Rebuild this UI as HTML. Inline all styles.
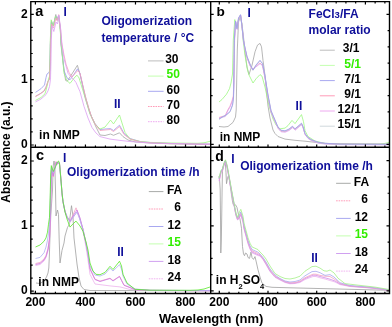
<!DOCTYPE html>
<html><head><meta charset="utf-8"><style>
html,body{margin:0;padding:0;background:#fff;width:392px;height:327px;overflow:hidden}
svg{display:block;will-change:transform}
text{font-family:"Liberation Sans",sans-serif;font-weight:bold}
</style></head><body>
<svg width="392" height="327" viewBox="0 0 392 327">
<rect width="392" height="327" fill="#fff"/>
<path d="M35.5,96.3 40.0,93.8 44.0,91.0 46.0,87.5 48.0,81.3 49.5,79.0 50.2,60.0 50.5,40.0 51.4,22.0 53.3,26.0 55.8,14.5 57.0,20.0 58.7,16.0 60.4,30.0 61.0,45.0 63.9,68.6 65.6,80.4 67.3,81.2 73.2,72.0 77.4,65.3 79.9,73.7 85.0,95.0 88.6,108.0 92.0,118.0 96.0,127.0 100.0,135.0 105.0,135.5 110.5,134.0 113.5,135.3 119.5,132.8 123.0,136.6 128.0,140.0 135.0,141.9 150.0,143.0 170.0,143.8 210.0,144.3" stroke="#a4a4a4" stroke-width="0.8" fill="none"/>
<path d="M35.5,92.4 41.0,88.7 44.5,85.0 46.0,77.6 47.0,74.0 49.0,72.5 49.8,70.3 50.3,45.0 51.4,21.0 53.3,26.0 55.8,16.0 57.0,19.5 58.7,15.0 60.4,30.0 61.0,42.0 64.0,70.6 67.0,77.9 70.0,79.8 74.0,74.3 77.5,68.8 80.0,73.3 85.0,97.2 90.0,113.7 95.0,123.5 100.0,129.6 105.0,129.0 110.5,128.6 113.5,130.5 119.5,125.2 124.0,133.4 130.0,138.5 140.0,141.5 150.0,142.5 170.0,143.5 210.0,144.2" stroke="#9c9cec" stroke-width="0.8" fill="none"/>
<path d="M35.5,100.4 41.0,97.5 45.0,93.8 47.0,86.5 48.5,79.1 49.5,76.2 50.1,55.0 50.3,40.0 51.2,19.8 53.3,26.0 55.5,16.0 57.0,20.0 58.7,16.0 60.2,30.0 61.0,42.0 64.0,73.3 67.0,80.7 70.0,83.4 75.0,77.0 77.0,75.2 79.0,77.9 85.0,97.2 90.0,114.0 95.0,124.0 100.0,129.0 105.0,127.1 110.5,120.1 113.5,123.9 119.5,115.0 122.0,123.0 125.0,132.4 130.0,139.0 140.0,141.5 150.0,142.4 170.0,143.0 198.0,143.3 204.0,142.8 210.0,141.3" stroke="#9cf880" stroke-width="0.8" fill="none"/>
<path d="M35.5,96.6 40.0,94.0 44.0,91.2 46.0,86.8 48.0,81.5 49.5,79.2 50.4,60.0 50.8,40.0 51.6,24.0 53.5,28.0 56.0,18.0 57.2,21.0 58.7,14.6 60.6,30.0 61.5,42.0 64.0,55.0 66.0,64.2 69.0,72.4 72.0,77.0 75.0,73.3 78.0,70.6 80.0,73.3 86.0,99.0 91.0,115.5 95.0,124.0 100.0,130.5 105.0,130.0 110.5,129.5 113.5,131.5 119.5,126.5 124.0,134.5 130.0,139.0 140.0,141.8 150.0,142.8 170.0,143.6 210.0,144.3" stroke="#f49ebe" stroke-width="0.8" fill="none"/>
<path d="M35.5,101.9 41.0,99.0 46.0,94.6 48.0,90.9 49.5,86.5 50.5,79.1 51.0,60.0 51.3,40.0 52.0,26.0 53.8,31.5 56.0,22.0 57.5,24.0 58.8,15.0 60.8,30.0 62.0,45.0 64.0,58.7 68.0,73.3 71.0,77.0 74.0,79.8 76.0,82.5 80.0,91.7 84.0,106.4 88.0,118.0 92.0,127.5 96.0,133.0 100.0,136.6 110.0,139.1 120.0,140.4 130.0,141.5 150.0,143.0 210.0,144.3" stroke="#dc9ef2" stroke-width="0.8" fill="none"/>
<path d="M219.0,126.5 224.0,127.0 228.0,126.5 233.0,122.4 235.5,117.0 236.2,110.0 236.5,90.0 237.3,50.0 238.5,22.0 240.5,16.0 242.0,24.3 243.5,37.0 245.0,52.0 247.0,67.0 249.0,74.5 252.0,65.3 255.0,51.8 257.5,45.1 260.0,43.4 261.5,46.8 263.0,60.3 265.0,75.4 266.5,92.0 268.0,106.0 270.0,118.0 273.0,130.0 275.0,133.5 278.0,136.5 285.0,139.1 295.0,140.3 305.0,141.2 315.0,142.3 325.0,143.3 340.0,144.0 389.0,144.3" stroke="#a4a4a4" stroke-width="0.8" fill="none"/>
<path d="M219.0,102.0 222.0,99.5 226.5,94.2 228.0,91.4 229.5,88.7 231.0,83.0 232.5,74.0 233.3,40.0 234.8,19.6 236.5,26.4 238.5,20.0 240.5,15.7 242.0,25.3 243.0,39.3 245.0,55.3 247.5,70.0 249.0,75.0 253.0,83.0 256.0,78.8 260.0,74.6 262.0,76.2 265.0,87.0 269.0,106.0 273.0,119.0 276.0,125.0 280.0,128.8 285.0,128.1 288.0,125.6 292.0,120.4 295.0,123.6 301.5,114.6 303.5,121.7 305.0,130.7 308.0,136.5 315.0,141.0 325.0,143.5 340.0,144.0 378.0,144.1 384.0,143.6 389.0,142.4" stroke="#9cf880" stroke-width="0.8" fill="none"/>
<path d="M219.0,117.5 222.0,116.5 225.0,116.0 228.0,109.5 230.0,106.2 232.0,100.9 233.3,96.0 233.9,80.0 234.4,40.0 235.6,21.5 237.0,29.0 238.6,18.5 240.6,15.0 242.0,27.0 243.5,41.0 245.0,49.0 247.0,57.5 250.0,65.5 252.5,69.2 255.0,67.0 258.0,64.5 260.0,63.0 262.5,65.5 265.0,78.0 268.0,97.0 271.0,112.0 275.0,121.0 278.0,128.0 281.0,131.2 285.0,131.6 289.0,129.8 292.5,127.0 295.0,129.6 301.5,124.0 303.0,127.3 305.0,134.2 308.0,138.0 312.0,140.5 318.0,142.5 325.0,143.5 340.0,144.1 389.0,144.3" stroke="#f49ebe" stroke-width="0.8" fill="none"/>
<path d="M219.2,118.1 222.2,117.1 225.2,116.6 228.2,110.1 230.2,106.8 232.2,101.5 233.5,96.6 234.1,80.6 234.6,40.6 235.8,22.1 237.2,29.6 238.8,19.1 240.8,15.6 242.2,27.6 243.7,41.6 245.2,49.6 247.2,58.1 250.2,66.1 252.7,69.8 255.2,67.6 258.2,65.1 260.2,63.6 262.7,66.1 265.2,78.6 268.2,97.6 271.2,112.6 275.2,121.6 278.2,128.6 281.2,131.8 285.2,132.2 289.2,130.4 292.7,127.6 295.2,130.2 301.7,124.6 303.2,127.9 305.2,134.8 308.2,138.6 312.2,141.1 318.2,143.1 325.2,144.1 340.2,144.7 389.2,144.9" stroke="#dc9ef2" stroke-width="0.8" fill="none"/>
<path d="M219.0,119.4 223.0,116.9 226.0,115.4 230.0,112.0 232.5,105.4 233.5,98.4 233.8,80.4 234.3,40.4 235.5,21.4 237.0,29.0 238.5,18.4 240.5,15.0 242.0,26.8 243.5,40.7 245.0,48.2 247.0,56.8 250.0,64.4 253.0,70.4 256.0,65.4 260.0,60.7 262.5,63.9 265.0,76.4 268.0,95.4 271.0,110.9 275.0,120.4 278.0,127.4 281.0,130.6 285.0,131.2 289.0,129.4 292.5,126.6 295.0,129.2 301.5,123.6 303.0,126.9 305.0,133.9 308.0,137.9 312.0,140.4 318.0,142.6 325.0,143.7 340.0,144.4 389.0,144.6" stroke="#c4ccd4" stroke-width="0.8" fill="none"/>
<path d="M219.0,119.0 223.0,116.5 226.0,115.0 230.0,111.6 232.5,105.0 233.5,98.0 233.8,80.0 234.3,40.0 235.5,21.0 237.0,28.6 238.5,18.0 240.5,14.6 242.0,26.4 243.5,40.3 245.0,47.8 247.0,56.4 250.0,64.0 253.0,70.0 256.0,65.0 260.0,60.3 262.5,63.5 265.0,76.0 268.0,95.0 271.0,110.5 275.0,120.0 278.0,127.0 281.0,130.2 285.0,130.8 289.0,129.0 292.5,126.2 295.0,128.8 301.5,123.2 303.0,126.5 305.0,133.5 308.0,137.5 312.0,140.0 318.0,142.2 325.0,143.3 340.0,144.0 389.0,144.2" stroke="#9c9cec" stroke-width="0.8" fill="none"/>
<path d="M36.0,283.0 40.0,283.5 44.0,281.0 46.5,277.0 48.0,273.0 48.8,268.0 49.4,255.0 50.0,235.0 50.8,215.0 52.5,190.0 53.2,166.0 54.0,161.0 54.8,166.0 55.5,190.0 56.0,216.0 57.5,210.0 58.5,214.3 59.2,240.0 60.0,263.0 62.0,250.4 64.0,243.0 65.0,236.0 67.5,227.4 69.0,225.0 71.5,205.7 73.0,216.4 74.0,238.0 75.5,251.0 77.0,264.0 79.0,277.5 81.0,286.0 84.0,289.5 90.0,290.5 210.0,290.8" stroke="#a0a0a0" stroke-width="0.8" fill="none"/>
<path d="M35.5,265.5 40.0,264.5 44.0,261.0 46.0,257.5 48.0,251.0 49.5,241.0 50.6,215.0 51.1,190.0 51.7,170.0 53.3,177.0 55.3,167.0 56.3,162.5 57.3,164.5 58.8,163.2 59.7,165.0 60.2,170.0 60.8,177.0 61.3,182.5 62.0,194.0 63.0,202.5 65.0,212.0 67.0,217.5 70.0,222.5 73.0,217.5 77.0,212.0 80.0,219.5 83.0,231.0 86.0,247.0 88.0,260.0 90.0,274.3 95.0,284.0 110.0,285.9 120.0,286.9 130.0,289.5 150.0,290.5 210.0,290.8" stroke="#ecb2ec" stroke-width="0.8" fill="none"/>
<path d="M35.5,263.5 40.0,262.5 44.0,259.0 46.0,255.5 48.0,248.5 49.5,237.9 50.4,215.0 50.9,190.0 51.5,168.0 53.0,177.0 55.0,166.0 56.0,161.4 57.0,163.3 58.5,162.3 59.5,164.0 60.0,169.0 60.6,176.0 61.1,181.5 62.0,193.0 63.0,201.5 65.0,211.0 67.0,216.4 70.0,221.0 73.0,215.0 76.0,207.8 79.0,215.5 83.0,229.0 86.0,243.0 88.0,254.0 90.0,268.6 95.0,279.2 100.0,281.1 110.0,278.2 113.0,280.5 119.5,276.3 121.5,280.0 124.0,285.0 135.0,289.5 150.0,290.3 210.0,290.7" stroke="#f2a2c2" stroke-width="0.8" fill="none"/>
<path d="M35.5,264.5 40.0,263.5 44.0,260.0 46.0,256.5 48.0,249.5 49.5,239.0 50.5,215.0 51.0,190.0 51.6,169.0 53.2,176.0 55.2,166.5 56.2,162.0 57.2,164.0 58.7,162.8 59.6,164.5 60.1,169.5 60.7,176.5 61.2,182.0 62.0,193.5 63.0,202.0 65.0,211.5 67.0,217.0 70.0,221.5 73.0,216.0 77.0,210.0 80.0,218.0 83.0,229.5 86.0,244.0 88.0,255.0 90.0,269.0 95.0,279.5 100.0,281.5 110.0,278.5 113.0,281.0 119.5,276.5 121.5,280.5 124.0,285.3 135.0,289.6 150.0,290.4 210.0,290.7" stroke="#cc78e4" stroke-width="0.8" fill="none"/>
<path d="M35.5,258.5 40.0,257.4 44.0,252.8 46.0,247.0 47.5,240.2 48.5,233.3 49.5,224.2 50.3,200.0 50.9,178.0 51.5,167.0 53.3,173.0 55.5,166.0 57.5,162.3 58.5,161.6 59.5,163.5 59.9,168.5 60.5,175.5 61.0,181.5 62.0,193.0 63.0,201.6 65.0,211.2 67.0,216.6 70.0,221.5 73.0,217.5 77.0,212.0 79.0,217.0 83.0,229.5 86.0,243.0 88.0,254.0 90.0,266.0 95.0,275.0 100.0,276.0 105.0,274.0 110.0,268.2 113.0,271.0 119.5,264.7 121.5,269.0 123.0,276.0 127.0,284.0 135.0,289.0 150.0,290.2 210.0,290.6" stroke="#b0b0f2" stroke-width="0.8" fill="none"/>
<path d="M35.5,247.0 40.0,245.0 44.0,241.3 46.0,237.9 47.5,232.2 48.5,224.2 49.5,217.3 50.2,195.0 50.7,175.0 51.3,165.6 53.3,171.5 55.5,166.9 57.5,161.9 58.5,161.0 59.5,163.0 59.9,168.0 60.5,175.0 61.0,181.0 62.0,192.8 63.0,201.4 65.0,212.0 67.0,219.0 70.0,227.1 73.0,223.9 76.0,221.1 80.0,226.0 83.0,231.4 86.0,242.0 88.0,250.0 90.0,263.0 93.0,271.0 96.0,274.3 100.0,274.7 105.0,272.4 110.0,266.3 113.0,269.5 119.5,261.2 121.5,266.0 123.0,274.3 127.0,283.0 135.0,289.3 150.0,290.2 190.0,290.3 198.0,290.0 204.0,289.0 210.0,287.0" stroke="#58e828" stroke-width="0.8" fill="none"/>
<path d="M219.0,176.0 219.6,180.0 220.2,190.0 220.5,218.0 220.8,253.0 221.3,240.0 221.7,218.0 222.1,190.0 222.5,169.0 224.0,163.5 225.2,160.8 226.0,172.7 226.5,183.7 227.5,178.2 228.5,175.4 229.5,180.0 230.5,187.4 232.0,198.4 233.0,203.9 234.0,205.7 235.5,204.8 237.0,207.5 238.5,214.8 240.0,219.0 241.5,228.3 242.5,246.6 243.5,253.9 244.5,255.7 245.5,253.0 247.0,254.0 248.0,257.5 249.5,258.4 251.0,252.0 252.0,257.5 253.5,259.4 255.0,256.6 256.5,263.0 258.0,269.8 260.0,277.0 262.0,283.0 266.0,286.4 272.0,287.3 290.0,287.8 330.0,288.8 389.0,290.3" stroke="#a0a0a0" stroke-width="0.8" fill="none"/>
<path d="M219.2,181.5 219.9,178.3 221.0,172.7 222.5,171.0 224.0,165.5 225.5,162.1 227.0,167.3 228.5,175.3 230.0,183.8 232.0,194.8 234.0,205.3 235.0,210.8 236.0,215.8 237.5,220.0 239.0,219.0 240.8,215.3 243.0,222.2 244.0,229.1 246.0,236.4 248.0,243.8 250.0,249.2 252.0,252.9 254.0,253.8 256.0,254.7 258.0,255.6 260.0,256.0 263.0,259.5 266.0,264.5 270.0,271.5 275.0,277.3 280.0,280.0 285.0,282.5 290.0,283.8 295.0,283.5 300.0,282.5 305.0,279.5 313.0,276.5 316.0,276.5 320.0,277.8 325.0,279.0 330.0,280.5 335.0,282.0 340.0,284.6 350.0,286.5 370.0,288.0 389.0,290.3" stroke="#ecb2ec" stroke-width="0.8" fill="none"/>
<path d="M219.2,181.0 219.8,177.8 221.0,172.2 222.5,170.4 224.0,165.0 225.5,161.7 227.0,166.8 228.5,174.8 230.0,183.3 232.0,194.3 234.0,204.8 235.0,210.3 236.0,215.3 237.5,219.5 239.0,218.1 240.8,214.4 243.0,221.3 244.0,228.2 246.0,235.5 248.0,242.9 250.0,248.3 252.0,252.0 254.0,252.9 256.0,253.8 258.0,254.7 260.0,255.5 263.0,259.0 266.0,264.0 270.0,271.0 275.0,276.8 280.0,279.5 285.0,282.0 290.0,283.3 295.0,283.0 300.0,281.8 305.0,278.6 313.0,275.2 316.0,275.3 320.0,276.5 325.0,277.8 330.0,279.2 335.0,281.0 340.0,284.0 350.0,286.2 370.0,287.8 389.0,290.2" stroke="#d08ce8" stroke-width="0.8" fill="none"/>
<path d="M219.2,180.0 219.7,177.2 221.0,171.6 222.5,169.8 224.0,164.4 225.5,161.2 227.0,166.2 228.5,174.2 230.0,182.7 232.0,193.7 234.0,204.2 235.0,209.7 236.0,214.7 237.5,218.9 239.0,216.9 240.8,213.2 243.0,220.1 244.0,227.0 246.0,234.3 248.0,241.7 250.0,247.1 252.0,250.8 254.0,251.7 256.0,252.6 258.0,253.5 260.0,254.8 263.0,258.3 266.0,263.0 270.0,270.0 275.0,276.0 280.0,279.0 285.0,281.5 290.0,282.8 295.0,282.6 300.0,281.1 305.0,277.7 313.0,274.2 316.0,274.2 320.0,275.4 325.0,276.2 330.0,276.5 335.0,279.5 340.0,283.4 350.0,286.0 370.0,287.5 389.0,290.0" stroke="#f2a2c2" stroke-width="0.8" fill="none"/>
<path d="M219.0,179.0 219.5,176.6 221.0,171.0 222.5,169.2 224.0,163.8 225.5,160.6 227.0,165.5 228.5,173.5 230.0,182.0 232.0,193.0 234.0,203.5 235.0,209.0 236.0,214.0 237.5,218.2 239.0,215.6 240.8,211.9 243.0,218.8 244.0,225.7 246.0,233.0 248.0,240.4 250.0,245.8 252.0,249.5 254.0,250.4 256.0,251.3 258.0,252.2 260.0,254.0 263.0,257.5 266.0,262.0 270.0,269.0 275.0,275.0 280.0,278.5 285.0,281.0 290.0,282.0 295.0,281.5 300.0,280.0 305.0,275.8 312.0,271.6 316.0,271.3 320.0,272.7 325.0,275.4 330.0,274.6 334.0,277.0 340.0,282.7 350.0,285.5 370.0,287.1 389.0,289.8" stroke="#a8a8f0" stroke-width="0.8" fill="none"/>
<path d="M219.0,178.0 219.5,175.8 221.0,170.3 222.5,168.5 224.0,163.0 225.5,159.8 227.0,164.7 228.5,172.7 230.0,181.2 232.0,192.2 234.0,202.7 235.0,208.2 236.0,213.2 237.5,217.4 239.0,213.0 240.8,209.3 243.0,216.2 244.0,223.1 246.0,230.4 248.0,237.8 250.0,243.2 252.0,246.9 254.0,247.8 256.0,248.7 258.0,249.6 260.0,252.0 263.0,255.0 266.0,259.0 270.0,266.0 275.0,273.5 280.0,276.5 285.0,278.5 290.0,279.0 295.0,278.0 300.0,276.2 305.0,271.2 312.0,266.6 316.0,266.2 320.0,268.1 324.0,270.8 327.0,271.2 330.0,270.0 334.0,272.9 338.0,278.2 345.0,283.6 360.0,285.4 375.0,287.1 389.0,289.5" stroke="#a4f088" stroke-width="0.8" fill="none"/>
<path d="M148 60.9H163.6" stroke="#bdbdbd" stroke-width="1.0"/>
<path d="M148 76.1H163.6" stroke="#c4ffb0" stroke-width="1.0"/>
<path d="M148 91.3H163.6" stroke="#a8a8f0" stroke-width="1.0"/>
<path d="M148 106.5H163.6" stroke="#ff9cb8" stroke-width="1.0" stroke-dasharray="1.6,0.9"/>
<path d="M148 121.7H163.6" stroke="#eeaaf0" stroke-width="1.0" stroke-dasharray="1.6,0.9"/>
<path d="M319.8 50.2H334.8" stroke="#bdbdbd" stroke-width="1.0"/>
<path d="M319.8 65.4H334.8" stroke="#c4ffb0" stroke-width="1.0"/>
<path d="M319.8 80.6H334.8" stroke="#a8a8f0" stroke-width="1.0"/>
<path d="M319.8 95.8H334.8" stroke="#ff9cb8" stroke-width="1.0"/>
<path d="M319.8 111.0H334.8" stroke="#eeaaf0" stroke-width="1.0"/>
<path d="M319.8 126.2H334.8" stroke="#d0d8dc" stroke-width="1.0"/>
<path d="M148.8 191.6H163.4" stroke="#a8aaa8" stroke-width="1.0"/>
<path d="M148.8 209.0H163.4" stroke="#ff9cb8" stroke-width="1.0" stroke-dasharray="1.6,0.9"/>
<path d="M148.8 226.5H163.4" stroke="#a8a8f0" stroke-width="1.0"/>
<path d="M148.8 243.9H163.4" stroke="#c4ffb0" stroke-width="1.0"/>
<path d="M148.8 261.4H163.4" stroke="#d0a0f0" stroke-width="1.0"/>
<path d="M148.8 278.8H163.4" stroke="#f0b4f0" stroke-width="1.0" stroke-dasharray="1.6,0.9"/>
<path d="M336.1 183.3H350.7" stroke="#a8aaa8" stroke-width="1.0"/>
<path d="M336.1 200.8H350.7" stroke="#ff9cb8" stroke-width="1.0" stroke-dasharray="1.6,0.9"/>
<path d="M336.1 218.4H350.7" stroke="#a8a8f0" stroke-width="1.0"/>
<path d="M336.1 235.9H350.7" stroke="#c4ffb0" stroke-width="1.0"/>
<path d="M336.1 253.5H350.7" stroke="#d0a0f0" stroke-width="1.0"/>
<path d="M336.1 271.1H350.7" stroke="#f0b4f0" stroke-width="1.0" stroke-dasharray="1.6,0.9"/>
<path d="M35.40 147.20v-2.7M35.40 1.60v3.0M45.41 147.20v-1.8M45.41 1.60v2.0M55.42 147.20v-1.8M55.42 1.60v2.0M65.42 147.20v-1.8M65.42 1.60v2.0M75.43 147.20v-1.8M75.43 1.60v2.0M85.44 147.20v-2.7M85.44 1.60v3.0M95.45 147.20v-1.8M95.45 1.60v2.0M105.46 147.20v-1.8M105.46 1.60v2.0M115.46 147.20v-1.8M115.46 1.60v2.0M125.47 147.20v-1.8M125.47 1.60v2.0M135.48 147.20v-2.7M135.48 1.60v3.0M145.49 147.20v-1.8M145.49 1.60v2.0M155.50 147.20v-1.8M155.50 1.60v2.0M165.50 147.20v-1.8M165.50 1.60v2.0M175.51 147.20v-1.8M175.51 1.60v2.0M185.52 147.20v-2.7M185.52 1.60v3.0M195.53 147.20v-1.8M195.53 1.60v2.0M205.54 147.20v-1.8M205.54 1.60v2.0M30.80 145.00h3.0M30.80 131.93h1.9M30.80 118.86h1.9M30.80 105.79h1.9M30.80 92.72h1.9M30.80 79.65h3.0M30.80 66.58h1.9M30.80 53.51h1.9M30.80 40.44h1.9M30.80 27.37h1.9M30.80 14.30h3.0M219.30 147.20v-2.7M219.30 1.60v3.0M229.04 147.20v-1.8M229.04 1.60v2.0M238.78 147.20v-1.8M238.78 1.60v2.0M248.52 147.20v-1.8M248.52 1.60v2.0M258.26 147.20v-1.8M258.26 1.60v2.0M268.00 147.20v-2.7M268.00 1.60v3.0M277.74 147.20v-1.8M277.74 1.60v2.0M287.48 147.20v-1.8M287.48 1.60v2.0M297.22 147.20v-1.8M297.22 1.60v2.0M306.96 147.20v-1.8M306.96 1.60v2.0M316.70 147.20v-2.7M316.70 1.60v3.0M326.44 147.20v-1.8M326.44 1.60v2.0M336.18 147.20v-1.8M336.18 1.60v2.0M345.92 147.20v-1.8M345.92 1.60v2.0M355.66 147.20v-1.8M355.66 1.60v2.0M365.40 147.20v-2.7M365.40 1.60v3.0M375.14 147.20v-1.8M375.14 1.60v2.0M384.88 147.20v-1.8M384.88 1.60v2.0M210.70 144.30h3.0M389.50 144.30h-3.0M210.70 128.06h1.9M389.50 128.06h-1.9M210.70 111.83h1.9M389.50 111.83h-1.9M210.70 95.59h1.9M389.50 95.59h-1.9M210.70 79.35h3.0M389.50 79.35h-3.0M210.70 63.11h1.9M389.50 63.11h-1.9M210.70 46.88h1.9M389.50 46.88h-1.9M210.70 30.64h1.9M389.50 30.64h-1.9M210.70 14.40h3.0M389.50 14.40h-3.0M35.40 293.50v-2.7M45.41 293.50v-1.8M55.42 293.50v-1.8M65.42 293.50v-1.8M75.43 293.50v-1.8M85.44 293.50v-2.7M95.45 293.50v-1.8M105.46 293.50v-1.8M115.46 293.50v-1.8M125.47 293.50v-1.8M135.48 293.50v-2.7M145.49 293.50v-1.8M155.50 293.50v-1.8M165.50 293.50v-1.8M175.51 293.50v-1.8M185.52 293.50v-2.7M195.53 293.50v-1.8M205.54 293.50v-1.8M30.80 291.20h3.0M30.80 278.18h1.9M30.80 265.16h1.9M30.80 252.14h1.9M30.80 239.12h1.9M30.80 226.10h3.0M30.80 213.08h1.9M30.80 200.06h1.9M30.80 187.04h1.9M30.80 174.02h1.9M30.80 161.00h3.0M219.30 293.50v-2.7M229.04 293.50v-1.8M238.78 293.50v-1.8M248.52 293.50v-1.8M258.26 293.50v-1.8M268.00 293.50v-2.7M277.74 293.50v-1.8M287.48 293.50v-1.8M297.22 293.50v-1.8M306.96 293.50v-1.8M316.70 293.50v-2.7M326.44 293.50v-1.8M336.18 293.50v-1.8M345.92 293.50v-1.8M355.66 293.50v-1.8M365.40 293.50v-2.7M375.14 293.50v-1.8M384.88 293.50v-1.8M210.70 290.90h3.0M389.50 290.90h-3.0M210.70 274.62h1.9M389.50 274.62h-1.9M210.70 258.35h1.9M389.50 258.35h-1.9M210.70 242.07h1.9M389.50 242.07h-1.9M210.70 225.80h3.0M389.50 225.80h-3.0M210.70 209.52h1.9M389.50 209.52h-1.9M210.70 193.25h1.9M389.50 193.25h-1.9M210.70 176.97h1.9M389.50 176.97h-1.9M210.70 160.70h3.0M389.50 160.70h-3.0" stroke="#000" stroke-width="1.2" fill="none"/>
<path d="M30.8 1.6H389.5V293.5H30.8Z M210.7 1.6V293.5 M30.8 147.2H389.5" stroke="#000" stroke-width="1.4" fill="none"/>
<text x="27.6" y="17.5" font-size="12" text-anchor="end" fill="#000" >2</text>
<text x="27.6" y="82.7" font-size="12" text-anchor="end" fill="#000" >1</text>
<text x="27.6" y="147.9" font-size="12" text-anchor="end" fill="#000" >0</text>
<text x="27.6" y="163.7" font-size="12" text-anchor="end" fill="#000" >2</text>
<text x="27.6" y="228.8" font-size="12" text-anchor="end" fill="#000" >1</text>
<text x="27.6" y="293.9" font-size="12" text-anchor="end" fill="#000" >0</text>
<text x="35.4" y="305.6" font-size="12" text-anchor="middle" fill="#000" >200</text>
<text x="85.4" y="305.6" font-size="12" text-anchor="middle" fill="#000" >400</text>
<text x="135.5" y="305.6" font-size="12" text-anchor="middle" fill="#000" >600</text>
<text x="185.5" y="305.6" font-size="12" text-anchor="middle" fill="#000" >800</text>
<text x="219.3" y="305.6" font-size="12" text-anchor="middle" fill="#000" >200</text>
<text x="268.0" y="305.6" font-size="12" text-anchor="middle" fill="#000" >400</text>
<text x="316.7" y="305.6" font-size="12" text-anchor="middle" fill="#000" >600</text>
<text x="365.4" y="305.6" font-size="12" text-anchor="middle" fill="#000" >800</text>
<text x="211.2" y="322.6" font-size="13" text-anchor="middle" fill="#000" >Wavelength (nm)</text>
<text x="0" y="0" font-size="12" text-anchor="middle" transform="translate(9.8,152.1) rotate(-90)">Absorbance (a.u.)</text>
<text x="35.2" y="15.6" font-size="14.5" text-anchor="start" fill="#000" >a</text>
<text x="216.4" y="16.1" font-size="13.6" text-anchor="start" fill="#000" >b</text>
<text x="36.0" y="160.4" font-size="14.5" text-anchor="start" fill="#000" >c</text>
<text x="215.2" y="160.7" font-size="14" text-anchor="start" fill="#000" >d</text>
<text x="63.6" y="15.8" font-size="12" text-anchor="start" fill="#0f0f9a" >I</text>
<text x="114" y="107.7" font-size="12" text-anchor="start" fill="#0f0f9a" >II</text>
<text x="247.4" y="16.8" font-size="12" text-anchor="start" fill="#0f0f9a" >I</text>
<text x="295.6" y="109.9" font-size="12" text-anchor="start" fill="#0f0f9a" >II</text>
<text x="62.9" y="162.2" font-size="12" text-anchor="start" fill="#0f0f9a" >I</text>
<text x="117.2" y="256.3" font-size="12" text-anchor="start" fill="#0f0f9a" >II</text>
<text x="231.2" y="162.8" font-size="12" text-anchor="start" fill="#0f0f9a" >I</text>
<text x="311.2" y="262" font-size="12" text-anchor="start" fill="#0f0f9a" >II</text>
<text x="39.1" y="139.0" font-size="12" text-anchor="start" fill="#000" >in NMP</text>
<text x="219.7" y="140.6" font-size="12" text-anchor="start" fill="#000" >in NMP</text>
<text x="38.3" y="286.2" font-size="12" text-anchor="start" fill="#000" >in NMP</text>
<text x="215.8" y="284.1" font-size="12">in H<tspan font-size="7.5" dy="4.8">2</tspan><tspan dy="-4.8">SO</tspan><tspan font-size="7.5" dy="4.8">4</tspan></text>
<text x="101.4" y="24.5" font-size="12" text-anchor="start" fill="#0f0f9a" >Oligomerization</text>
<text x="101.4" y="42" font-size="12" text-anchor="start" fill="#0f0f9a" >temperature / °C</text>
<text x="165.2" y="63.2" font-size="12" text-anchor="start" fill="#000" >30</text>
<text x="166.6" y="78.4" font-size="12" text-anchor="start" fill="#33ee00" >50</text>
<text x="166.6" y="93.6" font-size="12" text-anchor="start" fill="#000" >60</text>
<text x="166.6" y="108.8" font-size="12" text-anchor="start" fill="#000" >70</text>
<text x="166.6" y="124.0" font-size="12" text-anchor="start" fill="#000" >80</text>
<text x="308.6" y="18.2" font-size="12" fill="#0f0f9a">FeCl<tspan font-size="9.5">3</tspan>/FA</text>
<text x="308.6" y="33.6" font-size="12" text-anchor="start" fill="#0f0f9a" >molar ratio</text>
<text x="359.4" y="52.3" font-size="12" text-anchor="end" fill="#000" >3/1</text>
<text x="360.9" y="67.5" font-size="12" text-anchor="end" fill="#33ee00" >5/1</text>
<text x="360.9" y="82.7" font-size="12" text-anchor="end" fill="#000" >7/1</text>
<text x="360.9" y="97.9" font-size="12" text-anchor="end" fill="#000" >9/1</text>
<text x="360.9" y="113.1" font-size="12" text-anchor="end" fill="#000" >12/1</text>
<text x="360.9" y="128.3" font-size="12" text-anchor="end" fill="#000" >15/1</text>
<text x="67" y="175.8" font-size="12" text-anchor="start" fill="#0f0f9a" >Oligomerization time /h</text>
<text x="182.3" y="194.0" font-size="12" text-anchor="end" fill="#000" >FA</text>
<text x="180.9" y="211.4" font-size="12" text-anchor="end" fill="#000" >6</text>
<text x="180.9" y="228.9" font-size="12" text-anchor="end" fill="#000" >12</text>
<text x="180.9" y="246.3" font-size="12" text-anchor="end" fill="#33ee00" >15</text>
<text x="180.9" y="263.8" font-size="12" text-anchor="end" fill="#000" >18</text>
<text x="180.9" y="281.2" font-size="12" text-anchor="end" fill="#000" >24</text>
<text x="240.2" y="169.8" font-size="12" text-anchor="start" fill="#0f0f9a" >Oligomerization time /h</text>
<text x="369.2" y="185.7" font-size="12" text-anchor="end" fill="#000" >FA</text>
<text x="368.0" y="203.2" font-size="12" text-anchor="end" fill="#000" >6</text>
<text x="368.0" y="220.8" font-size="12" text-anchor="end" fill="#000" >12</text>
<text x="368.0" y="238.3" font-size="12" text-anchor="end" fill="#33ee00" >15</text>
<text x="368.0" y="255.9" font-size="12" text-anchor="end" fill="#000" >18</text>
<text x="368.0" y="273.4" font-size="12" text-anchor="end" fill="#000" >24</text>
</svg>
</body></html>
